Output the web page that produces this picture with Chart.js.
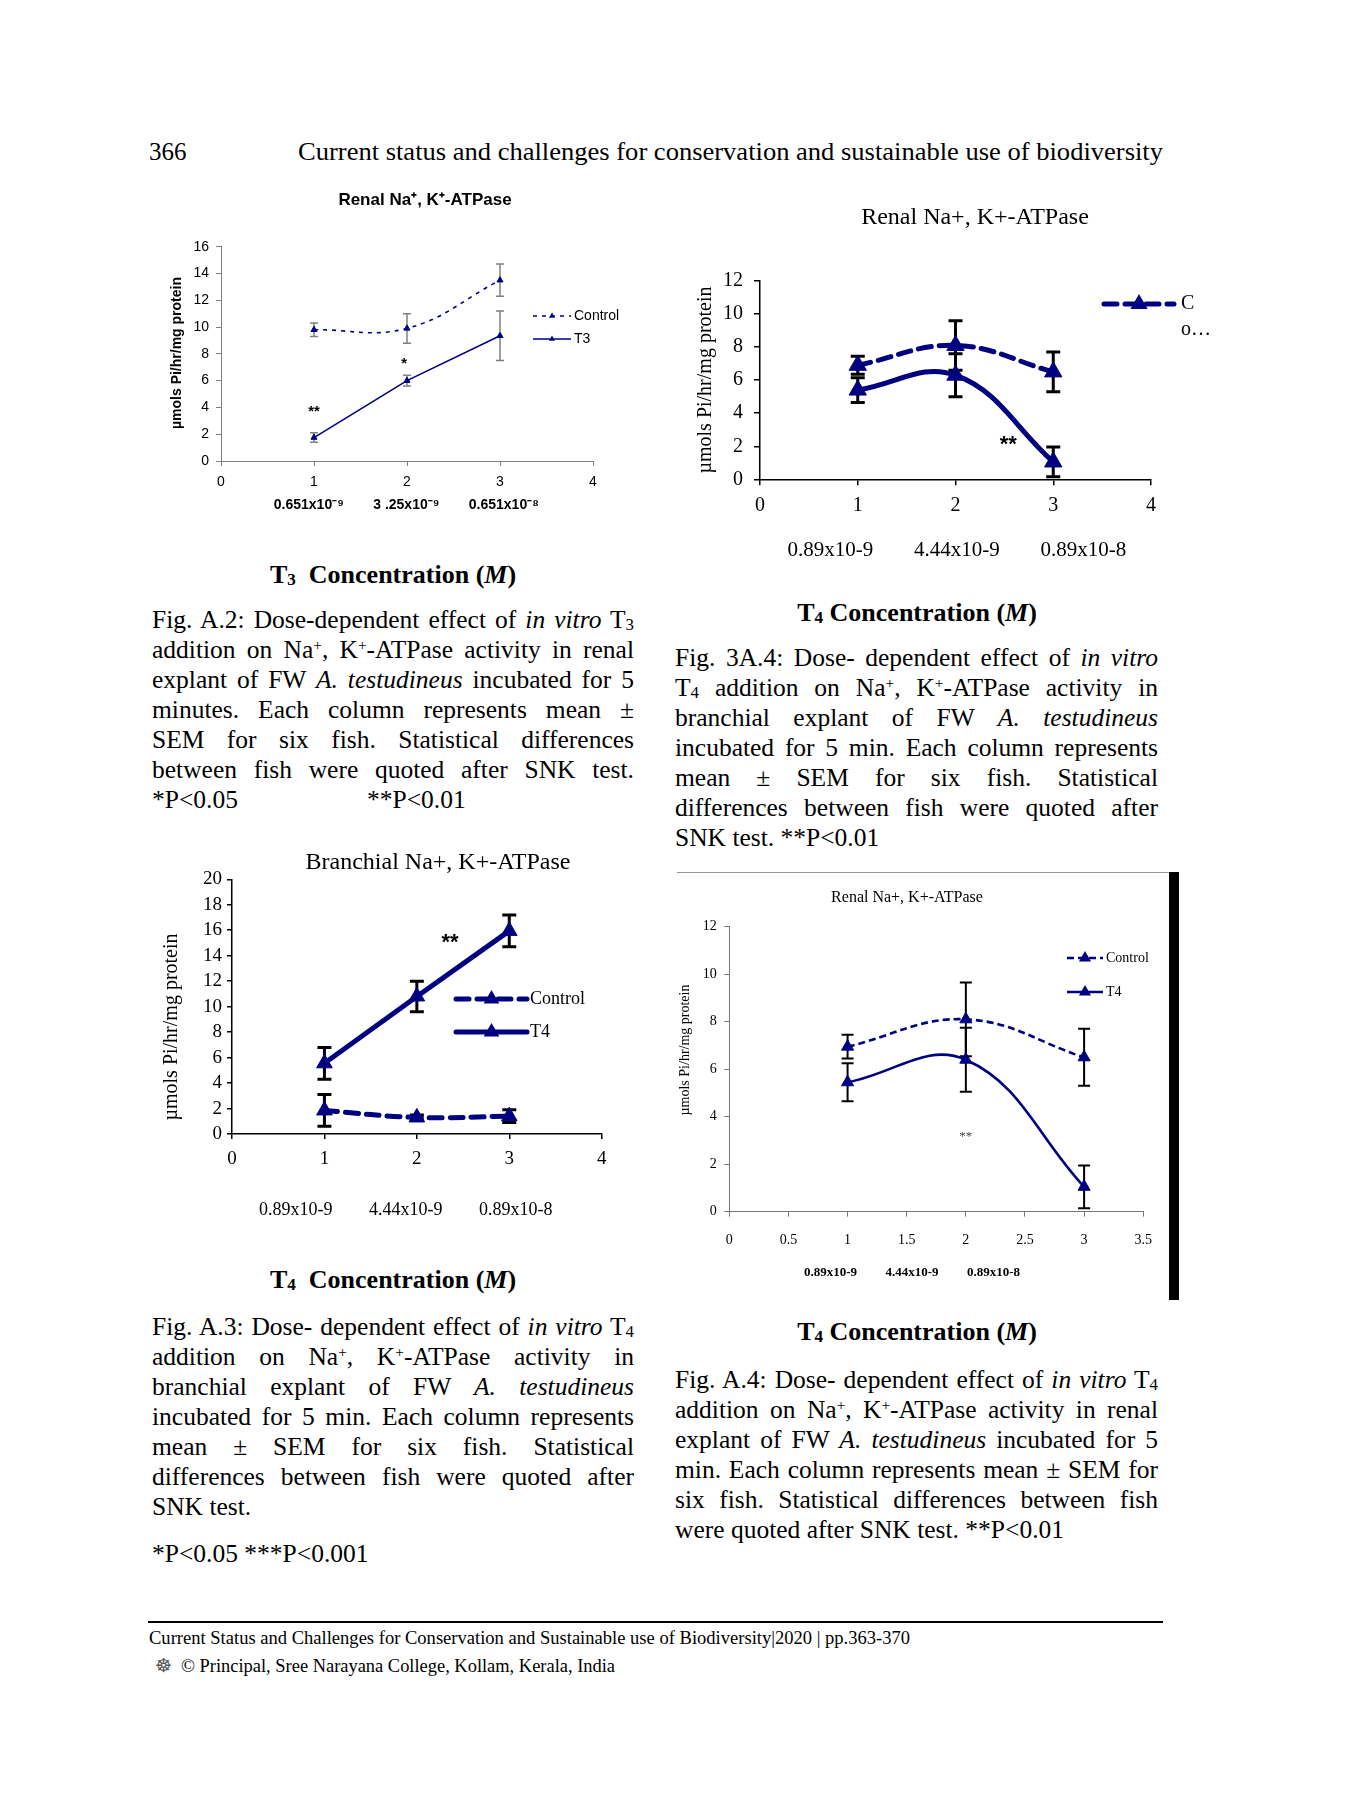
<!DOCTYPE html>
<html>
<head>
<meta charset="utf-8">
<script src="https://cdn.jsdelivr.net/npm/chart.js@4.4.1/dist/chart.umd.min.js"></script>
<style>
html, body { margin: 0; padding: 0; background: #fff; }
body { width: 1350px; height: 1800px; position: relative; overflow: hidden;
       font-family: 'Liberation Serif', 'Times New Roman', serif; color: #000; }
.t { position: absolute; white-space: nowrap; transform-origin: 0 50%; }
.cap { position: absolute; font-size: 25.5px; }
.cap div { height: 30px; line-height: 30px; white-space: nowrap; }
.head { position: absolute; width: 400px; text-align: center; font-weight: bold;
        font-size: 26px; line-height: 30px; white-space: nowrap; }
sub { font-size: 0.66em; vertical-align: -0.12em; line-height: 0; }
sup { font-size: 0.6em; vertical-align: 0.55em; line-height: 0; }
canvas { position: absolute; }
</style>
</head>
<body>

<div class="t" style="left:149px;top:137px;font-size:25px;line-height:30px;">366</div>
<div class="t fit" data-w="865" style="left:298px;top:137px;font-size:25px;line-height:30px;">Current status and challenges for conservation and sustainable use of biodiversity</div>

<div class="head" style="left:193px;top:560px;">T<sub>3</sub>&nbsp; Concentration (<i>M</i>)</div>
<div class="cap" style="left:152px;top:605px;width:482px;">
  <div class="j"><span>Fig. A.2: Dose-dependent effect of <i>in vitro</i> T<sub>3</sub></span></div>
  <div class="j"><span>addition on Na<sup>+</sup>, K<sup>+</sup>-ATPase activity in renal</span></div>
  <div class="j"><span>explant of FW <i>A. testudineus</i> incubated for 5</span></div>
  <div class="j"><span>minutes. Each column represents mean ±</span></div>
  <div class="j"><span>SEM for six fish. Statistical differences</span></div>
  <div class="j"><span>between fish were quoted after SNK test.</span></div>
  <div style="position:relative;"><span>*P&lt;0.05</span><span style="position:absolute;left:215px;">**P&lt;0.01</span></div>
</div>

<div class="head" style="left:717px;top:598px;">T<sub>4</sub> Concentration (<i>M</i>)</div>
<div class="cap" style="left:675px;top:643px;width:483px;">
  <div class="j"><span>Fig. 3A.4: Dose- dependent effect of <i>in vitro</i></span></div>
  <div class="j"><span>T<sub>4</sub> addition on Na<sup>+</sup>, K<sup>+</sup>-ATPase activity in</span></div>
  <div class="j"><span>branchial explant of FW <i>A. testudineus</i></span></div>
  <div class="j"><span>incubated for 5 min. Each column represents</span></div>
  <div class="j"><span>mean ± SEM for six fish. Statistical</span></div>
  <div class="j"><span>differences between fish were quoted after</span></div>
  <div><span>SNK test. **P&lt;0.01</span></div>
</div>

<div class="head" style="left:193px;top:1265px;">T<sub>4</sub>&nbsp; Concentration (<i>M</i>)</div>
<div class="cap" style="left:152px;top:1312px;width:482px;">
  <div class="j"><span>Fig. A.3: Dose- dependent effect of <i>in vitro</i> T<sub>4</sub></span></div>
  <div class="j"><span>addition on Na<sup>+</sup>, K<sup>+</sup>-ATPase activity in</span></div>
  <div class="j"><span>branchial explant of FW <i>A. testudineus</i></span></div>
  <div class="j"><span>incubated for 5 min. Each column represents</span></div>
  <div class="j"><span>mean ± SEM for six fish. Statistical</span></div>
  <div class="j"><span>differences between fish were quoted after</span></div>
  <div><span>SNK test.</span></div>
</div>
<div class="cap" style="left:152px;top:1539px;"><div>*P&lt;0.05 ***P&lt;0.001</div></div>

<div class="head" style="left:717px;top:1317px;">T<sub>4</sub> Concentration (<i>M</i>)</div>
<div class="cap" style="left:675px;top:1365px;width:483px;">
  <div class="j"><span>Fig. A.4: Dose- dependent effect of <i>in vitro</i> T<sub>4</sub></span></div>
  <div class="j"><span>addition on Na<sup>+</sup>, K<sup>+</sup>-ATPase activity in renal</span></div>
  <div class="j"><span>explant of FW <i>A. testudineus</i> incubated for 5</span></div>
  <div class="j"><span>min. Each column represents mean ± SEM for</span></div>
  <div class="j"><span>six fish. Statistical differences between fish</span></div>
  <div><span>were quoted after SNK test. **P&lt;0.01</span></div>
</div>

<!-- frame of the scanned figure A.4 -->
<div style="position:absolute;left:677px;top:872px;width:492px;height:1px;background:#999;"></div>
<div style="position:absolute;left:1169px;top:872px;width:10px;height:428px;background:#000;"></div>

<div style="position:absolute;left:148px;top:1621px;width:1015px;height:2px;background:#000;"></div>
<div class="t fit" data-w="761" style="left:149px;top:1626px;font-size:18px;line-height:24px;">Current Status and Challenges for Conservation and Sustainable use of Biodiversity|2020 | pp.363-370</div>
<div class="t" style="left:155px;top:1654px;font-size:19px;line-height:24px;color:#555;">☸</div>
<div class="t fit" data-w="434" style="left:181px;top:1654px;font-size:18px;line-height:24px;">© Principal, Sree Narayana College, Kollam, Kerala, India</div>

<script>
// dose levels on the x axis
const xPos = [1, 2, 3];
const seriesLabels = ['Control', 'T3'];
const seriesLabelsT4 = ['Control', 'T4'];

// Fig. A.2 - renal, T3
const a2Conc = ['0.651x10⁻⁹', '3 .25x10⁻⁹', '0.651x10⁻⁸'];
const a2Control = [9.8, 9.9, 13.5];
const a2ControlSem = [0.5, 1.1, 1.2];
const a2T3 = [1.75, 6.0, 9.35];
const a2T3Sem = [0.35, 0.4, 1.85];
const a2Stars = [{ x: 1, y: 3.95, text: '**' }, { x: 1.97, y: 7.55, text: '*' }];

// Fig. 3A.4 - T4 (titled renal)
const b4Conc = ['0.89x10-9', '4.44x10-9', '0.89x10-8'];
const b4Control = [6.9, 8.1, 6.5];
const b4ControlSem = [0.55, 1.5, 1.2];
const b4T4 = [5.4, 6.3, 1.05];
const b4T4Sem = [0.75, 1.3, 0.9];
const b4Stars = [{ x: 2.54, y: 2.4, text: '**' }];

// Fig. A.3 - branchial, T4
const a3Conc = ['0.89x10-9', '4.44x10-9', '0.89x10-8'];
const a3Control = [1.85, 1.3, 1.4];
const a3ControlSem = [1.25, 0.2, 0.5];
const a3T4 = [5.55, 10.8, 15.95];
const a3T4Sem = [1.25, 1.2, 1.25];
const a3Stars = [{ x: 2.36, y: 15.4, text: '**' }];

// Fig. A.4 - renal, T4
const a4Conc = ['0.89x10-9', '4.44x10-9', '0.89x10-8'];
const a4Control = [6.95, 8.1, 6.5];
const a4ControlSem = [0.5, 1.55, 1.2];
const a4T4 = [5.45, 6.4, 1.05];
const a4T4Sem = [0.8, 1.35, 0.9];
const a4Stars = [{ x: 2, y: 3.3, text: '**' }];

const navy = '#000080';

// justify caption lines and squeeze header / footer to their widths
document.querySelectorAll('.j').forEach(d => {
    const span = d.firstElementChild;
    const w = span.getBoundingClientRect().width;
    const gaps = (span.textContent.match(/ /g) || []).length;
    if (gaps) span.style.wordSpacing = ((d.clientWidth - w) / gaps) + 'px';
});
document.querySelectorAll('.fit').forEach(el => {
    const w = el.getBoundingClientRect().width;
    el.style.transform = 'scaleX(' + (Number(el.dataset.w) / w) + ')';
});

function tri(ctx, x, y, r, color) {
    ctx.fillStyle = color;
    ctx.beginPath();
    ctx.moveTo(x, y - r);
    ctx.lineTo(x + 0.866 * r, y + 0.5 * r);
    ctx.lineTo(x - 0.866 * r, y + 0.5 * r);
    ctx.closePath();
    ctx.fill();
}

// error bars, titles, concentration labels, legend and asterisks
const extras = {
    id: 'extras',
    beforeDatasetsDraw(chart, args, o) {
        const ctx = chart.ctx, xs = chart.scales.x, ys = chart.scales.y;
        ctx.save();
        ctx.strokeStyle = o.errColor;
        ctx.lineWidth = o.errWidth;
        ctx.setLineDash([]);
        chart.data.datasets.forEach(ds => {
            ds.data.forEach((p, i) => {
                const e = ds.errors[i];
                const px = xs.getPixelForValue(p.x);
                const t = ys.getPixelForValue(p.y + e), b = ys.getPixelForValue(p.y - e);
                ctx.beginPath();
                ctx.moveTo(px, t); ctx.lineTo(px, b);
                ctx.moveTo(px - o.cap, t); ctx.lineTo(px + o.cap, t);
                ctx.moveTo(px - o.cap, b); ctx.lineTo(px + o.cap, b);
                ctx.stroke();
            });
        });
        ctx.restore();
    },
    afterDraw(chart, args, o) {
        const ctx = chart.ctx, xs = chart.scales.x, ys = chart.scales.y;
        const ox = o.ox, oy = o.oy;
        ctx.save();
        ctx.fillStyle = '#000';
        ctx.textBaseline = 'middle';
        ctx.textAlign = 'center';

        ctx.font = o.title.font;
        ctx.fillText(o.title.text, o.title.x - ox, o.title.y - oy);

        ctx.save();
        ctx.translate(o.yTitle.x - ox, o.yTitle.y - oy);
        ctx.rotate(-Math.PI / 2);
        ctx.font = o.yTitle.font;
        ctx.fillText(o.yTitle.text, 0, 0);
        ctx.restore();

        const mid = (chart.chartArea.left + chart.chartArea.right) / 2 + o.conc.shift;
        ctx.font = o.conc.font;
        o.conc.labels.forEach((t, i) => ctx.fillText(t, mid + (i - 1) * o.conc.gap, o.conc.y - oy));

        o.legend.forEach(it => {
            const ds = chart.data.datasets[it.ds];
            ctx.save();
            ctx.strokeStyle = ds.borderColor;
            ctx.lineWidth = ds.borderWidth;
            ctx.lineCap = ds.borderCapStyle || 'butt';
            ctx.setLineDash(ds.borderDash || []);
            ctx.beginPath();
            ctx.moveTo(it.x1 - ox, it.y - oy);
            ctx.lineTo(it.x2 - ox, it.y - oy);
            ctx.stroke();
            tri(ctx, (it.x1 + it.x2) / 2 - ox, it.y - oy, ds.pointRadius, ds.backgroundColor);
            ctx.restore();
            ctx.font = o.legendFont;
            ctx.textAlign = 'left';
            ctx.fillStyle = '#000';
            const lines = it.text ? it.text : [ds.label];
            lines.forEach((t, k) => ctx.fillText(t, it.tx - ox, it.y - oy + k * o.legendGap));
        });

        ctx.textAlign = 'center';
        ctx.font = o.starFont;
        ctx.fillStyle = o.starColor;
        o.stars.forEach(s => ctx.fillText(s.text, xs.getPixelForValue(s.x), ys.getPixelForValue(s.y) + o.starDy));
        ctx.restore();
    }
};

function makeChart(c) {
    const cv = document.createElement('canvas');
    cv.width = c.box.w;
    cv.height = c.box.h;
    cv.style.left = c.box.x + 'px';
    cv.style.top = c.box.y + 'px';
    document.body.appendChild(cv);
    const a = c.area;
    const tickFont = { family: c.font, size: c.tickSize };
    const grid = { drawOnChartArea: false, drawTicks: true, tickLength: c.tickLength, color: c.axisColor, lineWidth: c.axisWidth };
    const border = { display: true, color: c.axisColor, width: c.axisWidth };
    const plain = v => String(Number(v));

    return new Chart(cv, {
        type: 'line',
        data: {
            datasets: c.series.map(s => ({
                label: s.label,
                data: xPos.map((x, i) => ({ x: x, y: s.values[i] })),
                errors: s.sem,
                borderColor: navy,
                backgroundColor: navy,
                borderWidth: c.lineWidth,
                borderDash: s.dashed ? c.dash : [],
                borderCapStyle: c.cap === 'round' ? 'round' : 'butt',
                tension: s.smooth ? 0.4 : 0,
                pointStyle: 'triangle',
                pointRadius: c.marker,
                pointBackgroundColor: navy,
                pointBorderColor: navy,
                pointBorderWidth: 1
            }))
        },
        options: {
            responsive: false,
            animation: false,
            devicePixelRatio: 1,
            layout: { padding: { left: 0, bottom: 0, top: a.top - c.box.y, right: c.box.x + c.box.w - a.right } },
            scales: {
                x: {
                    type: 'linear', min: 0, max: c.xMax,
                    ticks: { stepSize: c.xStep, font: tickFont, color: '#000', padding: c.xPad, maxRotation: 0, autoSkip: false, callback: plain },
                    grid: grid, border: border,
                    afterFit: s => { s.height = c.box.y + c.box.h - a.bottom; }
                },
                y: {
                    min: 0, max: c.yMax,
                    ticks: { stepSize: 2, font: tickFont, color: '#000', padding: c.yPad, autoSkip: false, callback: plain },
                    grid: grid, border: border,
                    afterFit: s => { s.width = a.left - c.box.x; }
                }
            },
            plugins: {
                legend: { display: false },
                tooltip: { enabled: false },
                extras: {
                    ox: c.box.x, oy: c.box.y,
                    errColor: c.errColor, errWidth: c.errWidth, cap: c.errCap,
                    title: c.title, yTitle: c.yTitle, conc: c.conc,
                    legend: c.legend, legendFont: c.legendFont, legendGap: c.legendGap || 0,
                    stars: c.stars, starFont: c.starFont, starColor: c.starColor || '#000', starDy: c.starDy
                }
            }
        },
        plugins: [extras]
    });
}

const yTitleText = 'µmols Pi/hr/mg protein';

// Fig. A.2
makeChart({
    box: { x: 140, y: 170, w: 520, h: 360 },
    area: { left: 221, right: 593, top: 246.7, bottom: 461 },
    font: 'Liberation Sans', tickSize: 14, axisColor: '#808080', axisWidth: 1, tickLength: 5,
    xPad: 8, yPad: 7, xMax: 4, xStep: 1, yMax: 16,
    lineWidth: 1.6, dash: [4, 5], marker: 3.5,
    errColor: '#808080', errWidth: 1.5, errCap: 4,
    series: [
        { label: seriesLabels[0], values: a2Control, sem: a2ControlSem, dashed: true, smooth: true },
        { label: seriesLabels[1], values: a2T3, sem: a2T3Sem, dashed: false, smooth: false }
    ],
    title: { text: 'Renal Na⁺, K⁺-ATPase', x: 425, y: 200, font: 'bold 17px "Liberation Sans"' },
    yTitle: { text: yTitleText, x: 177, y: 353, font: 'bold 14px "Liberation Sans"' },
    conc: { labels: a2Conc, y: 505, gap: 97.5, shift: -0.7, font: 'bold 14px "Liberation Sans"' },
    legend: [{ ds: 0, x1: 533, x2: 571, y: 316, tx: 574 }, { ds: 1, x1: 533, x2: 571, y: 339, tx: 574 }],
    legendFont: '14px "Liberation Sans"',
    stars: a2Stars, starFont: 'bold 15px "Liberation Sans"', starDy: 4
});

// Fig. 3A.4
makeChart({
    box: { x: 665, y: 190, w: 545, h: 390 },
    area: { left: 760, right: 1151, top: 281, bottom: 479.3 },
    font: 'Liberation Serif', tickSize: 20, axisColor: '#000', axisWidth: 1.5, tickLength: 6,
    xPad: 8, yPad: 11, xMax: 4, xStep: 1, yMax: 12,
    lineWidth: 5, dash: [13, 8], cap: 'round', marker: 10,
    errColor: '#000', errWidth: 3, errCap: 7,
    series: [
        { label: seriesLabelsT4[0], values: b4Control, sem: b4ControlSem, dashed: true, smooth: true },
        { label: seriesLabelsT4[1], values: b4T4, sem: b4T4Sem, dashed: false, smooth: true }
    ],
    title: { text: 'Renal Na+, K+-ATPase', x: 975, y: 218, font: '24px "Liberation Serif"' },
    yTitle: { text: yTitleText, x: 706, y: 380, font: '20px "Liberation Serif"' },
    conc: { labels: b4Conc, y: 550, gap: 126.5, shift: 1.3, font: '21px "Liberation Serif"' },
    legend: [{ ds: 0, x1: 1104, x2: 1174, y: 304, tx: 1181, text: ['C', 'o…'] }],
    legendFont: '20px "Liberation Serif"', legendGap: 26,
    stars: b4Stars, starFont: 'bold 22px "Liberation Sans"', starDy: 5
});

// Fig. A.3
makeChart({
    box: { x: 140, y: 840, w: 520, h: 400 },
    area: { left: 232, right: 601.7, top: 879.3, bottom: 1134 },
    font: 'Liberation Serif', tickSize: 19, axisColor: '#000', axisWidth: 1.5, tickLength: 5,
    xPad: 9, yPad: 5, xMax: 4, xStep: 1, yMax: 20,
    lineWidth: 5, dash: [13, 8], cap: 'round', marker: 9,
    errColor: '#000', errWidth: 3, errCap: 7,
    series: [
        { label: seriesLabelsT4[0], values: a3Control, sem: a3ControlSem, dashed: true, smooth: true },
        { label: seriesLabelsT4[1], values: a3T4, sem: a3T4Sem, dashed: false, smooth: false }
    ],
    title: { text: 'Branchial Na+, K+-ATPase', x: 438, y: 863, font: '24px "Liberation Serif"' },
    yTitle: { text: yTitleText, x: 172, y: 1027, font: '20px "Liberation Serif"' },
    conc: { labels: a3Conc, y: 1210, gap: 110, shift: -11, font: '18px "Liberation Serif"' },
    legend: [{ ds: 0, x1: 456, x2: 527, y: 999, tx: 530 }, { ds: 1, x1: 456, x2: 527, y: 1032, tx: 530 }],
    legendFont: '18px "Liberation Serif"',
    stars: a3Stars, starFont: 'bold 22px "Liberation Sans"', starDy: 5
});

// Fig. A.4
makeChart({
    box: { x: 672, y: 876, w: 495, h: 424 },
    area: { left: 729.3, right: 1152.3, top: 926.7, bottom: 1211.7 },
    font: 'Liberation Serif', tickSize: 14, axisColor: '#777', axisWidth: 1, tickLength: 5,
    xPad: 15, yPad: 7.6, xMax: 3.5, xStep: 0.5, yMax: 12,
    lineWidth: 2.6, dash: [7, 4], marker: 7,
    errColor: '#000', errWidth: 2, errCap: 6,
    series: [
        { label: seriesLabelsT4[0], values: a4Control, sem: a4ControlSem, dashed: true, smooth: true },
        { label: seriesLabelsT4[1], values: a4T4, sem: a4T4Sem, dashed: false, smooth: true }
    ],
    title: { text: 'Renal Na+, K+-ATPase', x: 907, y: 898, font: '16px "Liberation Serif"' },
    yTitle: { text: yTitleText, x: 685, y: 1050, font: '14px "Liberation Serif"' },
    conc: { labels: a4Conc, y: 1273, gap: 81.5, shift: -24.3, font: 'bold 13px "Liberation Serif"' },
    legend: [{ ds: 0, x1: 1067, x2: 1103, y: 958, tx: 1106 }, { ds: 1, x1: 1067, x2: 1103, y: 992, tx: 1106 }],
    legendFont: '14px "Liberation Serif"',
    stars: a4Stars, starFont: '13px "Liberation Serif"', starColor: '#444', starDy: 3.5
});
</script>
</body>
</html>
